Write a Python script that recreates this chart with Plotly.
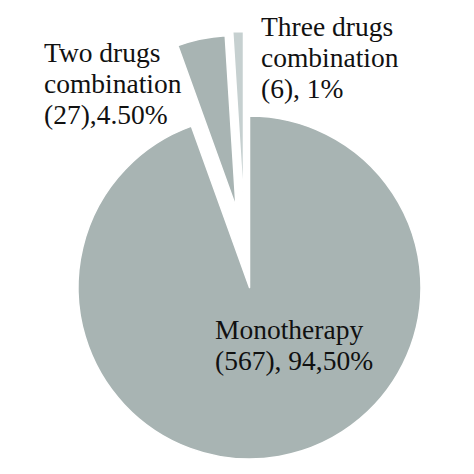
import plotly.graph_objects as go

W = H = 474

# data
labels = ["Monotherapy", "Two drugs combination", "Three drugs combination"]
counts = [567, 27, 6]
pct_text = ["94,50%", "4.50%", "1%"]
colors = ["#a8b4b3", "#a8b4b3", "#c6d0d0"]

# label lines as printed in the figure
label_lines = [
    ["Monotherapy", "(567), 94,50%"],
    ["Two drugs", "combination", "(27),4.50%"],
    ["Three drugs", "combination", "(6), 1%"],
]

R = 171.5  # pie radius in px
# centre of each (exploded) slice in px from top-left
centres = [(249.5, 287.5), (236.0, 207.0), (243.5, 203.0)]
# text block: left x, first baseline y (px)
text_pos = [(213, 339), (42, 62), (259, 36)]
FS = 27.5
LINE = 31
FONT = "Times New Roman, Liberation Serif, DejaVu Serif, serif"


def domain(cx, cy, r):
    return dict(x=[(cx - r) / W, (cx + r) / W],
                y=[1 - (cy + r) / H, 1 - (cy - r) / H])


fig = go.Figure()

for i, (cx, cy) in enumerate(centres):
    # each trace shows a single slice, others transparent
    fig.add_trace(go.Pie(
        labels=labels,
        values=counts,
        sort=False,
        direction="clockwise",
        rotation=0,
        textinfo="none",
        hoverinfo="label+value",
        showlegend=False,
        domain=domain(cx, cy, R),
        marker=dict(
            colors=[colors[j] if j == i else "rgba(0,0,0,0)" for j in range(len(counts))],
            line=dict(color="white", width=[1.5 if j == i else 0 for j in range(len(counts))]),
        ),
    ))

for (x0, y0), lines in zip(text_pos, label_lines):
    for k, line in enumerate(lines):
        yb = y0 + k * LINE
        fig.add_annotation(
            x=x0 / W, y=1 - (yb - 0.34 * FS) / H,
            xref="paper", yref="paper",
            xanchor="left", yanchor="middle",
            text=line, showarrow=False,
            font=dict(family=FONT, size=FS, color="#111111"),
        )

fig.update_layout(
    width=W, height=H,
    margin=dict(l=0, r=0, t=0, b=0),
    paper_bgcolor="white",
    plot_bgcolor="white",
    font=dict(family=FONT),
)

# drop the default page margin so the figure sits at the window origin
fig.write_html("out.html", config={"displayModeBar": False},
               post_script="document.body.style.margin='0';")
